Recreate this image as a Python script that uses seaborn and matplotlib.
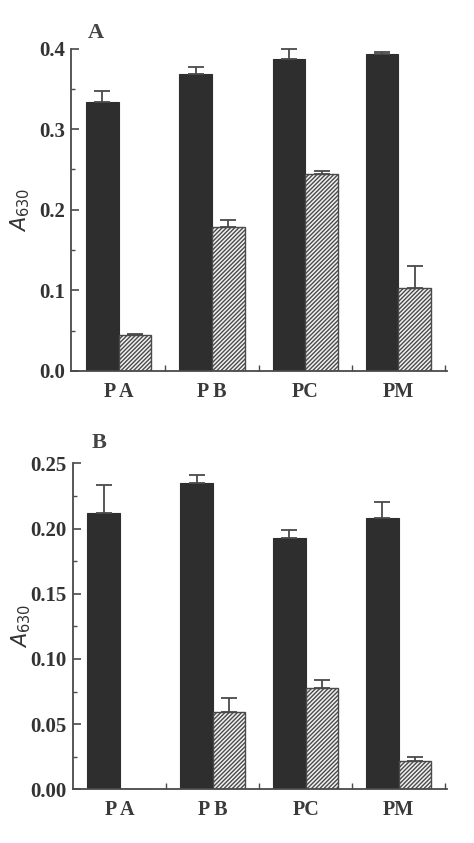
import numpy as np
import pandas as pd
import matplotlib
matplotlib.use("Agg")
import matplotlib.pyplot as plt
import seaborn as sns
from matplotlib.ticker import FixedLocator, MultipleLocator, FormatStrFormatter

# values
groups = ["P A", "P B", "PC", "PM"]
series = ["solid", "hatched"]

a_solid = [0.334, 0.369, 0.387, 0.393]
a_solid_err = [0.014, 0.008, 0.013, 0.003]
a_hatch = [0.044, 0.179, 0.245, 0.103]
a_hatch_err = [0.002, 0.008, 0.003, 0.027]

b_solid = [0.212, 0.235, 0.193, 0.208]
b_solid_err = [0.021, 0.006, 0.006, 0.012]
b_hatch = [0.0, 0.059, 0.0775, 0.022]
b_hatch_err = [0.0, 0.011, 0.0065, 0.0025]

sns.set_style("ticks")
plt.rcParams["font.family"] = ["Liberation Serif", "DejaVu Serif"]
plt.rcParams["mathtext.fontset"] = "dejavusans"
plt.rcParams["hatch.linewidth"] = 1.0
plt.rcParams["hatch.color"] = "#3a3a3a"

dark = "#2e2e2e"
grey = "#4a4a4a"

fig = plt.figure(figsize=(4.74, 8.43), dpi=100)
fig.patch.set_facecolor("white")


def panel(rect, solid, solid_err, hatch, hatch_err, ymax, step, fmt, letter, letter_xy):
    ax = fig.add_axes(rect)
    df = pd.DataFrame({
        "group": groups * 2,
        "series": [series[0]] * 4 + [series[1]] * 4,
        "value": solid + hatch,
    })
    sns.barplot(data=df, x="group", y="value", hue="series", order=groups,
                hue_order=series, palette=[dark, "#f2f2f2"], width=0.70,
                errorbar=None, legend=False, ax=ax, saturation=1)
    errs = [solid_err, hatch_err]
    bar_conts = list(ax.containers)
    for k, cont in enumerate(bar_conts):
        xs, ys = [], []
        for p in cont.patches:
            xs.append(p.get_x() + p.get_width() / 2)
            ys.append(p.get_height())
            if k == 0:
                p.set_edgecolor(dark)
                p.set_linewidth(0.8)
            else:
                p.set_hatch("////////")
                p.set_edgecolor(grey)
                p.set_linewidth(1.0)
        e = np.array(errs[k])
        mask = e > 0
        ax.errorbar(np.array(xs)[mask], np.array(ys)[mask],
                    yerr=[np.zeros(mask.sum()), e[mask]], fmt="none",
                    ecolor=grey, elinewidth=1.3, capsize=6, capthick=1.3,
                    clip_on=False, zorder=5)

    ax.set_xlim(-0.51, 3.52)
    ax.set_ylim(0, ymax)
    sns.despine(ax=ax)
    for s in ["left", "bottom"]:
        ax.spines[s].set_color(grey)
        ax.spines[s].set_linewidth(1.3)

    ax.yaxis.set_major_locator(MultipleLocator(step))
    ax.yaxis.set_minor_locator(MultipleLocator(step / 2))
    ax.yaxis.set_major_formatter(FormatStrFormatter(fmt))
    ax.xaxis.set_minor_locator(FixedLocator([0.5, 1.5, 2.5, 3.5]))
    ax.tick_params(axis="y", which="major", direction="in", length=6, width=1.2,
                   color=grey, labelsize=15, labelcolor="#333333", pad=4)
    ax.tick_params(axis="y", which="minor", direction="in", length=3, width=1.0, color=grey)
    ax.tick_params(axis="x", which="major", length=0, labelsize=14.5,
                   labelcolor="#3a3a3a", pad=8)
    ax.tick_params(axis="x", which="minor", direction="in", length=4, width=1.0, color=grey)
    for t in ax.get_yticklabels() + ax.get_xticklabels():
        t.set_fontweight("bold")

    ax.set_xlabel("")
    ax.set_ylabel(r"$A_{\mathrm{630}}$", fontsize=15, color="#333333")
    ax.yaxis.set_label_coords(-0.105, 0.5)
    ax.set_facecolor("none")
    fig.text(letter_xy[0] / 474, 1 - letter_xy[1] / 843, letter, fontsize=16,
             fontweight="bold", color="#444444", ha="center", va="center")
    return ax


panel([0.150, 0.560, 0.793, 0.3823], a_solid, a_solid_err, a_hatch, a_hatch_err,
      0.4, 0.1, "%.1f", "A", (96, 33))
panel([0.153, 0.0637, 0.790, 0.3867], b_solid, b_solid_err, b_hatch, b_hatch_err,
      0.25, 0.05, "%.2f", "B", (99, 443))

fig.savefig("out.png", dpi=100, facecolor=fig.get_facecolor())
